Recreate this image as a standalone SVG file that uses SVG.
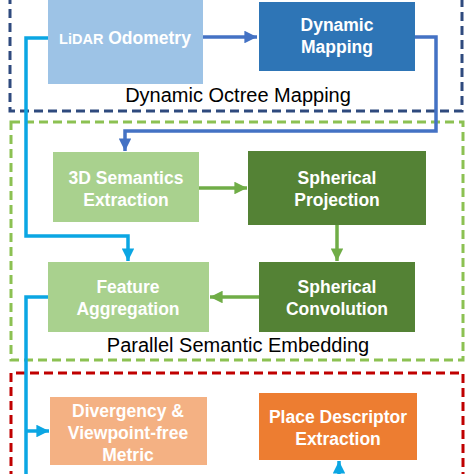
<svg xmlns="http://www.w3.org/2000/svg" width="474" height="474" viewBox="0 0 474 474">
<defs>
<style>
.t{font-family:"Liberation Sans",Arial,sans-serif;font-weight:bold;fill:#ffffff;text-anchor:middle;font-size:17.5px}
.lbl{font-family:"Liberation Sans",Arial,sans-serif;fill:#000000;text-anchor:middle;font-size:20px}
.grp{fill:none;stroke-width:3;stroke-dasharray:9 5}
.c{fill:none;stroke-width:3.5}
</style>
<marker id="ab" viewBox="0 0 10 10" refX="10" refY="5" markerWidth="3.6" markerHeight="3.6" orient="auto" markerUnits="strokeWidth"><path d="M0,0 L10,5 L0,10 z" fill="#4472C4"/></marker>
<marker id="ac" viewBox="0 0 10 10" refX="10" refY="5" markerWidth="3.6" markerHeight="3.6" orient="auto" markerUnits="strokeWidth"><path d="M0,0 L10,5 L0,10 z" fill="#0BA6E3"/></marker>
<marker id="ag" viewBox="0 0 10 10" refX="10" refY="5" markerWidth="3.6" markerHeight="3.6" orient="auto" markerUnits="strokeWidth"><path d="M0,0 L10,5 L0,10 z" fill="#70AD47"/></marker>
</defs>
<rect width="474" height="474" fill="#ffffff"/>

<g id="groups">
<path class="grp" d="M10,-5 L10,111 L462,111 L462,-5" stroke="#2F4A7E"/>
<rect class="grp" x="11" y="122" width="452" height="238" stroke="#8CC152"/>
<path class="grp" d="M11,480 L11,373 L463,373 L463,480" stroke="#C00000"/>
<text class="lbl" x="238" y="102">Dynamic Octree Mapping</text>
<text class="lbl" x="238" y="352">Parallel Semantic Embedding</text>
</g>

<g id="lidar">
<rect x="48" y="-2" width="155" height="86" fill="#9DC3E6"/>
<text class="t" x="125" y="44"><tspan font-size="14.5px">LiDAR</tspan> Odometry</text>
</g>
<g id="dynmap">
<rect x="259" y="2" width="156" height="69" fill="#2E75B6"/>
<text class="t" x="337" y="31">Dynamic</text>
<text class="t" x="337" y="53">Mapping</text>
</g>
<g id="sem3d">
<rect x="53" y="152" width="146" height="70" fill="#A9D18E"/>
<text class="t" x="126" y="184">3D Semantics</text>
<text class="t" x="126" y="206">Extraction</text>
</g>
<g id="sphproj">
<rect x="248" y="151" width="178" height="74" fill="#548235"/>
<text class="t" x="337" y="184">Spherical</text>
<text class="t" x="337" y="206">Projection</text>
</g>
<g id="sphconv">
<rect x="259" y="262" width="156" height="70" fill="#548235"/>
<text class="t" x="337" y="293">Spherical</text>
<text class="t" x="337" y="315">Convolution</text>
</g>
<g id="featagg">
<rect x="48" y="262" width="161" height="70" fill="#A9D18E"/>
<text class="t" x="128" y="293">Feature</text>
<text class="t" x="128" y="315">Aggregation</text>
</g>
<g id="diverg">
<rect x="50" y="397" width="157" height="68" fill="#F4B183"/>
<text class="t" x="128" y="417">Divergency &amp;</text>
<text class="t" x="128" y="439">Viewpoint-free</text>
<text class="t" x="128" y="461">Metric</text>
</g>
<g id="placedesc">
<rect x="259" y="393" width="158" height="67" fill="#ED7D31"/>
<text class="t" x="338" y="423">Place Descriptor</text>
<text class="t" x="338" y="445">Extraction</text>
</g>

<g id="connectors">
<path class="c" stroke="#4472C4" d="M203,37 L257,37" marker-end="url(#ab)"/>
<path class="c" stroke="#4472C4" d="M415,37 L436,37 L436,131 L125,131 L125,151" marker-end="url(#ab)"/>
<path class="c" stroke="#0BA6E3" d="M48,38 L26,38 L26,236 L128,236 L128,261" marker-end="url(#ac)"/>
<path class="c" stroke="#0BA6E3" d="M48,297 L26,297 L26,480"/>
<path class="c" stroke="#0BA6E3" d="M26,431 L49,431" marker-end="url(#ac)"/>
<path class="c" stroke="#0BA6E3" d="M339,480 L339,461" marker-end="url(#ac)"/>
<path class="c" stroke="#70AD47" d="M199,188 L247,188" marker-end="url(#ag)"/>
<path class="c" stroke="#70AD47" d="M337,225 L337,261" marker-end="url(#ag)"/>
<path class="c" stroke="#70AD47" d="M259,297 L210,297" marker-end="url(#ag)"/>
</g>
</svg>
